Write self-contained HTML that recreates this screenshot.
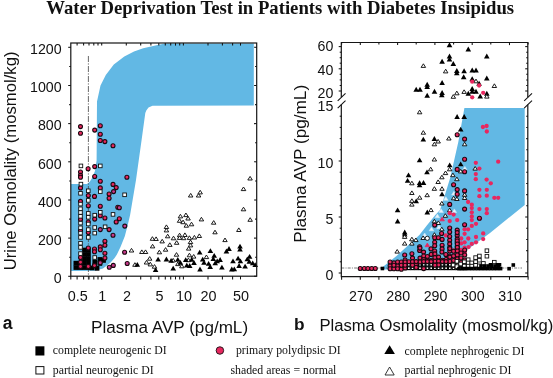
<!DOCTYPE html>
<html><head><meta charset="utf-8"><title>Water Deprivation Test in Patients with Diabetes Insipidus</title>
<style>html,body{margin:0;padding:0;background:#fff}</style></head>
<body>
<svg width="553" height="378" viewBox="0 0 553 378" style="display:block">
<rect width="553" height="378" fill="#fff"/>
<polygon fill="#62B8E4" points="71.0,184.1 87.0,184.1 89.5,182.0 91.8,178.6 95.0,171.0 96.6,160.6 97.0,101.4 100.5,85.6 105.8,75.0 113.8,64.4 124.3,56.5 134.0,51.5 143.2,48.3 156.5,45.3 165.0,43.6 253.8,43.6 253.8,105.4 152.5,105.8 148.5,107.5 146.3,110.5 145.3,113.0 141.6,140.0 136.0,180.0 130.1,215.0 127.5,226.1 124.8,236.2 120.6,246.8 116.9,254.5 114.6,258.0 110.4,262.8 103.0,268.6 94.5,270.7 71.0,270.9"/>
<polygon fill="#62B8E4" points="464.4,107.9 524.7,107.9 524.7,205.0 490.0,233.0 466.5,250.2 452.0,262.0 440.0,269.5 381.0,269.5 382.7,267.0 396.5,256.0 408.8,244.7 419.4,235.1 426.8,225.6 435.3,215.0 440.0,210.0 444.8,195.3 450.3,177.5 458.3,142.0"/>
<line x1="88.4" y1="56" x2="88.4" y2="279.5" stroke="#444" stroke-width="0.8" stroke-dasharray="6 1.4 1.2 1.4"/>
<line x1="341.3" y1="268" x2="522" y2="268" stroke="#555" stroke-width="0.8" stroke-dasharray="3 1.2 1 1.2"/>
<rect x="73.5" y="260.8" width="4.7" height="4.7" fill="#000"/>
<rect x="73.5" y="265.2" width="4.7" height="4.7" fill="#000"/>
<rect x="77.7" y="260.8" width="4.7" height="4.7" fill="#000"/>
<rect x="77.7" y="265.2" width="4.7" height="4.7" fill="#000"/>
<rect x="81.9" y="260.8" width="4.7" height="4.7" fill="#000"/>
<rect x="81.9" y="265.2" width="4.7" height="4.7" fill="#000"/>
<rect x="86.1" y="260.8" width="4.7" height="4.7" fill="#000"/>
<rect x="86.1" y="265.2" width="4.7" height="4.7" fill="#000"/>
<rect x="82.1" y="247.7" width="4.7" height="4.7" fill="#000"/>
<rect x="86.1" y="247.7" width="4.7" height="4.7" fill="#000"/>
<rect x="82.1" y="252.1" width="4.7" height="4.7" fill="#000"/>
<rect x="86.1" y="252.1" width="4.7" height="4.7" fill="#000"/>
<rect x="82.1" y="256.4" width="4.7" height="4.7" fill="#000"/>
<rect x="86.1" y="256.4" width="4.7" height="4.7" fill="#000"/>
<rect x="92.4" y="259.6" width="4.7" height="4.7" fill="#000"/>
<rect x="92.4" y="263.6" width="4.7" height="4.7" fill="#000"/>
<rect x="97.5" y="257.1" width="4.7" height="4.7" fill="#000"/>
<rect x="97.5" y="261.1" width="4.7" height="4.7" fill="#000"/>
<rect x="101.2" y="258.1" width="4.7" height="4.7" fill="#000"/>
<rect x="89.7" y="265.6" width="4.7" height="4.7" fill="#000"/>
<rect x="94.7" y="266.0" width="4.7" height="4.7" fill="#000"/>
<circle cx="80.5" cy="126.6" r="2.0" fill="#E8275F" stroke="#1c0810" stroke-width="1.1"/>
<circle cx="80.5" cy="133.3" r="2.0" fill="#E8275F" stroke="#1c0810" stroke-width="1.1"/>
<circle cx="94.7" cy="130.1" r="2.0" fill="#E8275F" stroke="#1c0810" stroke-width="1.1"/>
<circle cx="100.3" cy="125.7" r="2.0" fill="#E8275F" stroke="#1c0810" stroke-width="1.1"/>
<circle cx="100.3" cy="134.2" r="2.0" fill="#E8275F" stroke="#1c0810" stroke-width="1.1"/>
<circle cx="100.3" cy="140.5" r="2.0" fill="#E8275F" stroke="#1c0810" stroke-width="1.1"/>
<circle cx="104.9" cy="141.6" r="2.0" fill="#E8275F" stroke="#1c0810" stroke-width="1.1"/>
<circle cx="113.0" cy="145.8" r="2.0" fill="#E8275F" stroke="#1c0810" stroke-width="1.1"/>
<circle cx="88.1" cy="168.8" r="2.0" fill="#E8275F" stroke="#1c0810" stroke-width="1.1"/>
<circle cx="94.7" cy="166.6" r="2.0" fill="#E8275F" stroke="#1c0810" stroke-width="1.1"/>
<circle cx="80.5" cy="172.0" r="2.0" fill="#E8275F" stroke="#1c0810" stroke-width="1.1"/>
<circle cx="80.5" cy="175.4" r="2.0" fill="#E8275F" stroke="#1c0810" stroke-width="1.1"/>
<circle cx="80.5" cy="177.2" r="2.0" fill="#E8275F" stroke="#1c0810" stroke-width="1.1"/>
<circle cx="94.7" cy="176.5" r="2.0" fill="#E8275F" stroke="#1c0810" stroke-width="1.1"/>
<circle cx="100.3" cy="181.3" r="2.0" fill="#E8275F" stroke="#1c0810" stroke-width="1.1"/>
<circle cx="80.5" cy="187.9" r="2.0" fill="#E8275F" stroke="#1c0810" stroke-width="1.1"/>
<circle cx="100.3" cy="187.9" r="2.0" fill="#E8275F" stroke="#1c0810" stroke-width="1.1"/>
<circle cx="113.0" cy="184.4" r="2.0" fill="#E8275F" stroke="#1c0810" stroke-width="1.1"/>
<circle cx="116.2" cy="187.6" r="2.0" fill="#E8275F" stroke="#1c0810" stroke-width="1.1"/>
<circle cx="80.5" cy="201.4" r="2.0" fill="#E8275F" stroke="#1c0810" stroke-width="1.1"/>
<circle cx="80.5" cy="219.4" r="2.0" fill="#E8275F" stroke="#1c0810" stroke-width="1.1"/>
<circle cx="88.3" cy="195.6" r="2.0" fill="#E8275F" stroke="#1c0810" stroke-width="1.1"/>
<circle cx="88.3" cy="205.7" r="2.0" fill="#E8275F" stroke="#1c0810" stroke-width="1.1"/>
<circle cx="88.3" cy="222.0" r="2.0" fill="#E8275F" stroke="#1c0810" stroke-width="1.1"/>
<circle cx="94.5" cy="196.4" r="2.0" fill="#E8275F" stroke="#1c0810" stroke-width="1.1"/>
<circle cx="109.1" cy="194.0" r="2.0" fill="#E8275F" stroke="#1c0810" stroke-width="1.1"/>
<circle cx="109.1" cy="198.2" r="2.0" fill="#E8275F" stroke="#1c0810" stroke-width="1.1"/>
<circle cx="100.3" cy="206.2" r="2.0" fill="#E8275F" stroke="#1c0810" stroke-width="1.1"/>
<circle cx="100.3" cy="215.7" r="2.0" fill="#E8275F" stroke="#1c0810" stroke-width="1.1"/>
<circle cx="94.7" cy="219.1" r="2.0" fill="#E8275F" stroke="#1c0810" stroke-width="1.1"/>
<circle cx="104.9" cy="218.0" r="2.0" fill="#E8275F" stroke="#1c0810" stroke-width="1.1"/>
<circle cx="117.8" cy="207.2" r="2.0" fill="#E8275F" stroke="#1c0810" stroke-width="1.1"/>
<circle cx="116.2" cy="222.0" r="2.0" fill="#E8275F" stroke="#1c0810" stroke-width="1.1"/>
<circle cx="80.5" cy="230.5" r="2.0" fill="#E8275F" stroke="#1c0810" stroke-width="1.1"/>
<circle cx="80.5" cy="257.5" r="2.0" fill="#E8275F" stroke="#1c0810" stroke-width="1.1"/>
<circle cx="88.3" cy="232.6" r="2.0" fill="#E8275F" stroke="#1c0810" stroke-width="1.1"/>
<circle cx="88.3" cy="248.0" r="2.0" fill="#E8275F" stroke="#1c0810" stroke-width="1.1"/>
<circle cx="109.1" cy="229.6" r="2.0" fill="#E8275F" stroke="#1c0810" stroke-width="1.1"/>
<circle cx="104.9" cy="241.3" r="2.0" fill="#E8275F" stroke="#1c0810" stroke-width="1.1"/>
<circle cx="104.9" cy="245.3" r="2.0" fill="#E8275F" stroke="#1c0810" stroke-width="1.1"/>
<circle cx="100.3" cy="246.9" r="2.0" fill="#E8275F" stroke="#1c0810" stroke-width="1.1"/>
<circle cx="100.3" cy="249.8" r="2.0" fill="#E8275F" stroke="#1c0810" stroke-width="1.1"/>
<circle cx="94.5" cy="249.0" r="2.0" fill="#E8275F" stroke="#1c0810" stroke-width="1.1"/>
<circle cx="94.5" cy="251.7" r="2.0" fill="#E8275F" stroke="#1c0810" stroke-width="1.1"/>
<circle cx="104.9" cy="253.3" r="2.0" fill="#E8275F" stroke="#1c0810" stroke-width="1.1"/>
<circle cx="104.9" cy="258.0" r="2.0" fill="#E8275F" stroke="#1c0810" stroke-width="1.1"/>
<circle cx="80.5" cy="262.2" r="2.0" fill="#E8275F" stroke="#1c0810" stroke-width="1.1"/>
<circle cx="80.5" cy="266.5" r="2.0" fill="#E8275F" stroke="#1c0810" stroke-width="1.1"/>
<circle cx="88.3" cy="266.5" r="2.0" fill="#E8275F" stroke="#1c0810" stroke-width="1.1"/>
<circle cx="94.5" cy="265.6" r="2.0" fill="#E8275F" stroke="#1c0810" stroke-width="1.1"/>
<circle cx="126.9" cy="177.3" r="2.0" fill="#E8275F" stroke="#1c0810" stroke-width="1.1"/>
<circle cx="119.3" cy="218.7" r="2.0" fill="#E8275F" stroke="#1c0810" stroke-width="1.1"/>
<circle cx="113.6" cy="191.6" r="2.0" fill="#C8388A" stroke="#1c0810" stroke-width="1.1"/>
<circle cx="100.3" cy="229.6" r="2.0" fill="#C8388A" stroke="#1c0810" stroke-width="1.1"/>
<circle cx="113.0" cy="235.2" r="2.0" fill="#C8388A" stroke="#1c0810" stroke-width="1.1"/>
<circle cx="100.3" cy="262.8" r="2.0" fill="#C8388A" stroke="#1c0810" stroke-width="1.1"/>
<circle cx="109.3" cy="267.3" r="2.0" fill="#C8388A" stroke="#1c0810" stroke-width="1.1"/>
<circle cx="113.3" cy="265.4" r="2.0" fill="#C8388A" stroke="#1c0810" stroke-width="1.1"/>
<circle cx="119.3" cy="207.8" r="2.0" fill="#C8388A" stroke="#1c0810" stroke-width="1.1"/>
<circle cx="124.8" cy="226.1" r="2.0" fill="#C8388A" stroke="#1c0810" stroke-width="1.1"/>
<circle cx="124.6" cy="252.3" r="2.0" fill="#C8388A" stroke="#1c0810" stroke-width="1.1"/>
<circle cx="127.2" cy="263.5" r="2.0" fill="#C8388A" stroke="#1c0810" stroke-width="1.1"/>
<rect x="79.1" y="164.1" width="3.6" height="3.6" fill="#fff" stroke="#111" stroke-width="0.9"/>
<rect x="98.5" y="164.1" width="3.6" height="3.6" fill="#fff" stroke="#111" stroke-width="0.9"/>
<rect x="79.1" y="182.3" width="3.6" height="3.6" fill="#fff" stroke="#111" stroke-width="0.9"/>
<rect x="78.7" y="191.5" width="3.6" height="3.6" fill="#fff" stroke="#111" stroke-width="0.9"/>
<rect x="78.7" y="202.3" width="3.6" height="3.6" fill="#fff" stroke="#111" stroke-width="0.9"/>
<rect x="78.7" y="207.0" width="3.6" height="3.6" fill="#fff" stroke="#111" stroke-width="0.9"/>
<rect x="78.7" y="210.7" width="3.6" height="3.6" fill="#fff" stroke="#111" stroke-width="0.9"/>
<rect x="78.7" y="214.5" width="3.6" height="3.6" fill="#fff" stroke="#111" stroke-width="0.9"/>
<rect x="78.7" y="221.3" width="3.6" height="3.6" fill="#fff" stroke="#111" stroke-width="0.9"/>
<rect x="86.5" y="189.0" width="3.6" height="3.6" fill="#fff" stroke="#111" stroke-width="0.9"/>
<rect x="86.5" y="198.6" width="3.6" height="3.6" fill="#fff" stroke="#111" stroke-width="0.9"/>
<rect x="86.5" y="211.6" width="3.6" height="3.6" fill="#fff" stroke="#111" stroke-width="0.9"/>
<rect x="86.5" y="215.5" width="3.6" height="3.6" fill="#fff" stroke="#111" stroke-width="0.9"/>
<rect x="86.5" y="222.2" width="3.6" height="3.6" fill="#fff" stroke="#111" stroke-width="0.9"/>
<rect x="98.5" y="189.8" width="3.6" height="3.6" fill="#fff" stroke="#111" stroke-width="0.9"/>
<rect x="98.5" y="210.5" width="3.6" height="3.6" fill="#fff" stroke="#111" stroke-width="0.9"/>
<rect x="92.9" y="213.4" width="3.6" height="3.6" fill="#fff" stroke="#111" stroke-width="0.9"/>
<rect x="111.2" y="212.6" width="3.6" height="3.6" fill="#fff" stroke="#111" stroke-width="0.9"/>
<rect x="122.8" y="193.0" width="3.6" height="3.6" fill="#fff" stroke="#111" stroke-width="0.9"/>
<rect x="78.7" y="226.0" width="3.6" height="3.6" fill="#fff" stroke="#111" stroke-width="0.9"/>
<rect x="78.7" y="231.3" width="3.6" height="3.6" fill="#fff" stroke="#111" stroke-width="0.9"/>
<rect x="78.7" y="235.6" width="3.6" height="3.6" fill="#fff" stroke="#111" stroke-width="0.9"/>
<rect x="78.7" y="241.4" width="3.6" height="3.6" fill="#fff" stroke="#111" stroke-width="0.9"/>
<rect x="78.7" y="245.6" width="3.6" height="3.6" fill="#fff" stroke="#111" stroke-width="0.9"/>
<rect x="78.7" y="251.8" width="3.6" height="3.6" fill="#fff" stroke="#111" stroke-width="0.9"/>
<rect x="86.5" y="227.8" width="3.6" height="3.6" fill="#fff" stroke="#111" stroke-width="0.9"/>
<rect x="86.5" y="235.6" width="3.6" height="3.6" fill="#fff" stroke="#111" stroke-width="0.9"/>
<rect x="92.9" y="225.7" width="3.6" height="3.6" fill="#fff" stroke="#111" stroke-width="0.9"/>
<rect x="92.9" y="231.3" width="3.6" height="3.6" fill="#fff" stroke="#111" stroke-width="0.9"/>
<rect x="103.3" y="225.0" width="3.6" height="3.6" fill="#fff" stroke="#111" stroke-width="0.9"/>
<rect x="92.9" y="255.7" width="3.6" height="3.6" fill="#fff" stroke="#111" stroke-width="0.9"/>
<polygon points="131.5,248.4 133.8,252.0 129.2,252.0" fill="#fff" stroke="#111" stroke-width="0.95" stroke-linejoin="miter"/>
<polygon points="141.8,249.9 144.1,253.5 139.6,253.5" fill="#fff" stroke="#111" stroke-width="0.95" stroke-linejoin="miter"/>
<polygon points="145.5,249.9 147.8,253.5 143.2,253.5" fill="#fff" stroke="#111" stroke-width="0.95" stroke-linejoin="miter"/>
<polygon points="152.4,236.7 154.7,240.3 150.2,240.3" fill="#fff" stroke="#111" stroke-width="0.95" stroke-linejoin="miter"/>
<polygon points="156.1,236.9 158.3,240.5 153.8,240.5" fill="#fff" stroke="#111" stroke-width="0.95" stroke-linejoin="miter"/>
<polygon points="152.6,244.3 154.8,247.9 150.3,247.9" fill="#fff" stroke="#111" stroke-width="0.95" stroke-linejoin="miter"/>
<polygon points="159.3,250.2 161.6,253.8 157.1,253.8" fill="#fff" stroke="#111" stroke-width="0.95" stroke-linejoin="miter"/>
<polygon points="134.9,262.7 137.2,266.3 132.7,266.3" fill="#fff" stroke="#111" stroke-width="0.95" stroke-linejoin="miter"/>
<polygon points="146.5,260.4 148.8,264.0 144.2,264.0" fill="#fff" stroke="#111" stroke-width="0.95" stroke-linejoin="miter"/>
<polygon points="149.7,256.6 151.9,260.2 147.4,260.2" fill="#fff" stroke="#111" stroke-width="0.95" stroke-linejoin="miter"/>
<polygon points="150.3,262.2 152.6,265.9 148.1,265.9" fill="#fff" stroke="#111" stroke-width="0.95" stroke-linejoin="miter"/>
<polygon points="154.5,264.6 156.8,268.2 152.2,268.2" fill="#fff" stroke="#111" stroke-width="0.95" stroke-linejoin="miter"/>
<polygon points="180.4,214.3 182.7,217.9 178.2,217.9" fill="#fff" stroke="#111" stroke-width="0.95" stroke-linejoin="miter"/>
<polygon points="185.9,213.0 188.2,216.6 183.7,216.6" fill="#fff" stroke="#111" stroke-width="0.95" stroke-linejoin="miter"/>
<polygon points="188.1,216.4 190.3,220.0 185.8,220.0" fill="#fff" stroke="#111" stroke-width="0.95" stroke-linejoin="miter"/>
<polygon points="179.6,218.7 181.8,222.3 177.3,222.3" fill="#fff" stroke="#111" stroke-width="0.95" stroke-linejoin="miter"/>
<polygon points="183.1,220.1 185.3,223.7 180.8,223.7" fill="#fff" stroke="#111" stroke-width="0.95" stroke-linejoin="miter"/>
<polygon points="186.3,223.6 188.6,227.2 184.1,227.2" fill="#fff" stroke="#111" stroke-width="0.95" stroke-linejoin="miter"/>
<polygon points="191.5,222.2 193.8,225.8 189.2,225.8" fill="#fff" stroke="#111" stroke-width="0.95" stroke-linejoin="miter"/>
<polygon points="201.4,217.3 203.7,220.9 199.2,220.9" fill="#fff" stroke="#111" stroke-width="0.95" stroke-linejoin="miter"/>
<polygon points="166.4,224.9 168.7,228.5 164.2,228.5" fill="#fff" stroke="#111" stroke-width="0.95" stroke-linejoin="miter"/>
<polygon points="166.4,228.3 168.7,231.9 164.2,231.9" fill="#fff" stroke="#111" stroke-width="0.95" stroke-linejoin="miter"/>
<polygon points="167.7,234.2 169.9,237.8 165.4,237.8" fill="#fff" stroke="#111" stroke-width="0.95" stroke-linejoin="miter"/>
<polygon points="173.5,236.2 175.8,239.8 171.2,239.8" fill="#fff" stroke="#111" stroke-width="0.95" stroke-linejoin="miter"/>
<polygon points="179.6,233.2 181.8,236.8 177.3,236.8" fill="#fff" stroke="#111" stroke-width="0.95" stroke-linejoin="miter"/>
<polygon points="184.9,232.9 187.2,236.5 182.7,236.5" fill="#fff" stroke="#111" stroke-width="0.95" stroke-linejoin="miter"/>
<polygon points="179.6,235.8 181.8,239.4 177.3,239.4" fill="#fff" stroke="#111" stroke-width="0.95" stroke-linejoin="miter"/>
<polygon points="183.7,236.1 185.9,239.7 181.4,239.7" fill="#fff" stroke="#111" stroke-width="0.95" stroke-linejoin="miter"/>
<polygon points="189.4,235.8 191.7,239.4 187.2,239.4" fill="#fff" stroke="#111" stroke-width="0.95" stroke-linejoin="miter"/>
<polygon points="194.4,235.4 196.7,239.0 192.2,239.0" fill="#fff" stroke="#111" stroke-width="0.95" stroke-linejoin="miter"/>
<polygon points="199.3,233.9 201.6,237.5 197.1,237.5" fill="#fff" stroke="#111" stroke-width="0.95" stroke-linejoin="miter"/>
<polygon points="162.2,239.3 164.4,242.9 159.9,242.9" fill="#fff" stroke="#111" stroke-width="0.95" stroke-linejoin="miter"/>
<polygon points="176.7,240.7 178.9,244.3 174.4,244.3" fill="#fff" stroke="#111" stroke-width="0.95" stroke-linejoin="miter"/>
<polygon points="169.8,242.8 172.1,246.4 167.6,246.4" fill="#fff" stroke="#111" stroke-width="0.95" stroke-linejoin="miter"/>
<polygon points="190.5,240.0 192.8,243.6 188.2,243.6" fill="#fff" stroke="#111" stroke-width="0.95" stroke-linejoin="miter"/>
<polygon points="190.5,243.3 192.8,246.9 188.2,246.9" fill="#fff" stroke="#111" stroke-width="0.95" stroke-linejoin="miter"/>
<polygon points="188.7,246.5 190.9,250.1 186.4,250.1" fill="#fff" stroke="#111" stroke-width="0.95" stroke-linejoin="miter"/>
<polygon points="165.6,247.6 167.8,251.2 163.3,251.2" fill="#fff" stroke="#111" stroke-width="0.95" stroke-linejoin="miter"/>
<polygon points="176.5,252.6 178.8,256.2 174.2,256.2" fill="#fff" stroke="#111" stroke-width="0.95" stroke-linejoin="miter"/>
<polygon points="189.4,253.2 191.7,256.8 187.2,256.8" fill="#fff" stroke="#111" stroke-width="0.95" stroke-linejoin="miter"/>
<polygon points="193.7,254.5 195.9,258.1 191.4,258.1" fill="#fff" stroke="#111" stroke-width="0.95" stroke-linejoin="miter"/>
<polygon points="173.2,258.4 175.4,262.0 170.9,262.0" fill="#fff" stroke="#111" stroke-width="0.95" stroke-linejoin="miter"/>
<polygon points="188.4,258.1 190.7,261.7 186.2,261.7" fill="#fff" stroke="#111" stroke-width="0.95" stroke-linejoin="miter"/>
<polygon points="177.8,262.0 180.1,265.6 175.6,265.6" fill="#fff" stroke="#111" stroke-width="0.95" stroke-linejoin="miter"/>
<polygon points="181.8,264.2 184.1,267.8 179.6,267.8" fill="#fff" stroke="#111" stroke-width="0.95" stroke-linejoin="miter"/>
<polygon points="250.1,176.4 252.3,180.0 247.8,180.0" fill="#fff" stroke="#111" stroke-width="0.95" stroke-linejoin="miter"/>
<polygon points="243.5,187.0 245.8,190.6 241.2,190.6" fill="#fff" stroke="#111" stroke-width="0.95" stroke-linejoin="miter"/>
<polygon points="243.5,207.2 245.8,210.8 241.2,210.8" fill="#fff" stroke="#111" stroke-width="0.95" stroke-linejoin="miter"/>
<polygon points="213.7,220.6 215.9,224.2 211.4,224.2" fill="#fff" stroke="#111" stroke-width="0.95" stroke-linejoin="miter"/>
<polygon points="215.0,230.2 217.2,233.8 212.8,233.8" fill="#fff" stroke="#111" stroke-width="0.95" stroke-linejoin="miter"/>
<polygon points="238.8,227.9 241.1,231.5 236.6,231.5" fill="#fff" stroke="#111" stroke-width="0.95" stroke-linejoin="miter"/>
<polygon points="225.0,238.0 227.2,241.6 222.8,241.6" fill="#fff" stroke="#111" stroke-width="0.95" stroke-linejoin="miter"/>
<polygon points="250.2,217.7 252.4,221.3 247.9,221.3" fill="#fff" stroke="#111" stroke-width="0.95" stroke-linejoin="miter"/>
<polygon points="206.4,255.0 208.7,258.6 204.2,258.6" fill="#fff" stroke="#111" stroke-width="0.95" stroke-linejoin="miter"/>
<polygon points="190.7,193.4 192.9,197.0 188.4,197.0" fill="#fff" stroke="#111" stroke-width="0.95" stroke-linejoin="miter"/>
<polygon points="198.6,193.4 200.8,197.0 196.3,197.0" fill="#fff" stroke="#111" stroke-width="0.95" stroke-linejoin="miter"/>
<polygon points="200.2,190.3 202.4,193.9 197.9,193.9" fill="#fff" stroke="#111" stroke-width="0.95" stroke-linejoin="miter"/>
<polygon points="137.3,261.9 140.1,266.8 134.5,266.8" fill="#000"/>
<polygon points="155.6,267.2 158.4,272.1 152.8,272.1" fill="#000"/>
<polygon points="158.1,256.7 160.9,261.6 155.3,261.6" fill="#000"/>
<polygon points="199.7,249.8 202.5,254.6 196.9,254.6" fill="#000"/>
<polygon points="166.4,256.6 169.2,261.4 163.6,261.4" fill="#000"/>
<polygon points="171.1,257.9 173.9,262.8 168.3,262.8" fill="#000"/>
<polygon points="177.8,256.9 180.6,261.8 175.0,261.8" fill="#000"/>
<polygon points="180.4,259.9 183.2,264.8 177.6,264.8" fill="#000"/>
<polygon points="185.7,257.2 188.5,262.1 182.9,262.1" fill="#000"/>
<polygon points="191.7,256.9 194.5,261.8 188.9,261.8" fill="#000"/>
<polygon points="186.8,262.8 189.6,267.6 184.0,267.6" fill="#000"/>
<polygon points="189.7,263.1 192.5,267.9 186.9,267.9" fill="#000"/>
<polygon points="194.0,260.1 196.8,264.9 191.2,264.9" fill="#000"/>
<polygon points="202.7,256.7 205.5,261.6 199.9,261.6" fill="#000"/>
<polygon points="204.0,259.9 206.8,264.8 201.2,264.8" fill="#000"/>
<polygon points="173.2,265.8 176.0,270.6 170.4,270.6" fill="#000"/>
<polygon points="200.0,266.6 202.8,271.4 197.2,271.4" fill="#000"/>
<polygon points="240.0,243.8 242.8,248.6 237.2,248.6" fill="#000"/>
<polygon points="240.0,246.6 242.8,251.4 237.2,251.4" fill="#000"/>
<polygon points="229.0,246.1 231.8,250.9 226.2,250.9" fill="#000"/>
<polygon points="226.4,248.6 229.2,253.4 223.6,253.4" fill="#000"/>
<polygon points="210.4,248.2 213.2,253.0 207.6,253.0" fill="#000"/>
<polygon points="214.2,252.9 217.0,257.8 211.4,257.8" fill="#000"/>
<polygon points="213.3,256.2 216.1,261.1 210.5,261.1" fill="#000"/>
<polygon points="208.6,260.9 211.4,265.8 205.8,265.8" fill="#000"/>
<polygon points="210.2,264.1 213.0,268.9 207.4,268.9" fill="#000"/>
<polygon points="215.2,260.4 218.0,265.3 212.4,265.3" fill="#000"/>
<polygon points="217.2,258.4 220.0,263.2 214.4,263.2" fill="#000"/>
<polygon points="220.1,257.1 222.9,261.9 217.3,261.9" fill="#000"/>
<polygon points="221.9,264.7 224.7,269.6 219.1,269.6" fill="#000"/>
<polygon points="233.0,258.4 235.8,263.2 230.2,263.2" fill="#000"/>
<polygon points="238.1,255.8 240.9,260.6 235.3,260.6" fill="#000"/>
<polygon points="240.4,258.4 243.2,263.2 237.6,263.2" fill="#000"/>
<polygon points="239.1,263.1 241.9,267.9 236.3,267.9" fill="#000"/>
<polygon points="231.8,266.6 234.6,271.4 229.0,271.4" fill="#000"/>
<polygon points="234.3,266.4 237.1,271.2 231.5,271.2" fill="#000"/>
<polygon points="245.1,263.8 247.9,268.6 242.3,268.6" fill="#000"/>
<polygon points="247.3,256.4 250.1,261.3 244.5,261.3" fill="#000"/>
<polygon points="249.6,253.9 252.4,258.8 246.8,258.8" fill="#000"/>
<polygon points="249.3,258.9 252.1,263.8 246.5,263.8" fill="#000"/>
<polygon points="252.7,260.4 255.5,265.3 249.9,265.3" fill="#000"/>
<polygon points="255.2,262.2 258.0,267.1 252.4,267.1" fill="#000"/>
<polygon points="449.5,42.3 452.3,47.2 446.7,47.2" fill="#000"/>
<polygon points="449.5,53.4 452.3,58.4 446.7,58.4" fill="#000"/>
<polygon points="449.5,56.6 452.3,61.6 446.7,61.6" fill="#000"/>
<polygon points="442.1,58.8 444.9,63.8 439.3,63.8" fill="#000"/>
<polygon points="453.3,61.0 456.1,66.0 450.5,66.0" fill="#000"/>
<polygon points="456.8,68.0 459.6,73.0 454.0,73.0" fill="#000"/>
<polygon points="456.8,70.3 459.6,75.2 454.0,75.2" fill="#000"/>
<polygon points="464.1,68.2 466.9,73.2 461.3,73.2" fill="#000"/>
<polygon points="463.7,74.3 466.5,79.2 460.9,79.2" fill="#000"/>
<polygon points="442.1,80.1 444.9,85.0 439.3,85.0" fill="#000"/>
<polygon points="427.2,81.8 430.0,86.8 424.4,86.8" fill="#000"/>
<polygon points="427.2,84.1 430.0,89.0 424.4,89.0" fill="#000"/>
<polygon points="468.3,46.6 471.1,51.6 465.5,51.6" fill="#000"/>
<polygon points="486.8,53.4 489.6,58.4 484.0,58.4" fill="#000"/>
<polygon points="472.2,67.5 475.0,72.4 469.4,72.4" fill="#000"/>
<polygon points="476.0,67.5 478.8,72.4 473.2,72.4" fill="#000"/>
<polygon points="486.8,75.5 489.6,80.4 484.0,80.4" fill="#000"/>
<polygon points="472.2,76.3 475.0,81.2 469.4,81.2" fill="#000"/>
<polygon points="479.1,80.8 481.9,85.7 476.3,85.7" fill="#000"/>
<polygon points="472.2,86.0 475.0,90.9 469.4,90.9" fill="#000"/>
<polygon points="416.2,86.8 419.0,91.8 413.4,91.8" fill="#000"/>
<polygon points="420.0,86.8 422.8,91.8 417.2,91.8" fill="#000"/>
<polygon points="434.5,88.8 437.3,93.7 431.7,93.7" fill="#000"/>
<polygon points="427.2,92.8 430.0,97.8 424.4,97.8" fill="#000"/>
<polygon points="442.1,90.0 444.9,95.0 439.3,95.0" fill="#000"/>
<polygon points="441.8,92.3 444.6,97.2 439.0,97.2" fill="#000"/>
<polygon points="457.1,114.0 459.9,118.9 454.3,118.9" fill="#000"/>
<polygon points="464.2,114.0 467.0,118.9 461.4,118.9" fill="#000"/>
<polygon points="468.3,90.8 471.1,95.7 465.5,95.7" fill="#000"/>
<polygon points="472.2,88.8 475.0,93.7 469.4,93.7" fill="#000"/>
<polygon points="476.0,88.8 478.8,93.7 473.2,93.7" fill="#000"/>
<polygon points="486.8,90.8 489.6,95.7 484.0,95.7" fill="#000"/>
<polygon points="480.2,93.6 483.0,98.5 477.4,98.5" fill="#000"/>
<polygon points="423.3,136.7 426.1,141.5 420.5,141.5" fill="#000"/>
<polygon points="434.4,136.1 437.2,140.9 431.6,140.9" fill="#000"/>
<polygon points="419.6,157.4 422.4,162.2 416.8,162.2" fill="#000"/>
<polygon points="460.7,126.7 463.5,131.6 457.9,131.6" fill="#000"/>
<polygon points="460.7,161.4 463.5,166.2 457.9,166.2" fill="#000"/>
<polygon points="449.7,162.4 452.5,167.2 446.9,167.2" fill="#000"/>
<polygon points="427.0,169.5 429.8,174.3 424.2,174.3" fill="#000"/>
<polygon points="408.5,172.5 411.3,177.3 405.7,177.3" fill="#000"/>
<polygon points="407.6,178.0 410.4,182.8 404.8,182.8" fill="#000"/>
<polygon points="419.6,180.2 422.4,185.0 416.8,185.0" fill="#000"/>
<polygon points="419.6,182.5 422.4,187.3 416.8,187.3" fill="#000"/>
<polygon points="423.5,180.1 426.3,184.9 420.7,184.9" fill="#000"/>
<polygon points="442.0,191.4 444.8,196.2 439.2,196.2" fill="#000"/>
<polygon points="416.2,198.5 419.0,203.3 413.4,203.3" fill="#000"/>
<polygon points="397.6,207.5 400.4,212.3 394.8,212.3" fill="#000"/>
<polygon points="427.3,209.6 430.1,214.4 424.5,214.4" fill="#000"/>
<polygon points="397.6,218.6 400.4,223.4 394.8,223.4" fill="#000"/>
<polygon points="404.7,229.6 407.5,234.4 401.9,234.4" fill="#000"/>
<polygon points="404.7,231.6 407.5,236.4 401.9,236.4" fill="#000"/>
<polygon points="441.1,208.8 443.4,212.4 438.9,212.4" fill="#e8f4fb" stroke="#cfe8f6" stroke-width="0.6"/>
<polygon points="437.4,214.1 439.6,217.7 435.1,217.7" fill="#e8f4fb" stroke="#cfe8f6" stroke-width="0.6"/>
<polygon points="431.5,227.2 433.8,230.8 429.2,230.8" fill="#e8f4fb" stroke="#cfe8f6" stroke-width="0.6"/>
<polygon points="439.0,225.1 441.2,228.7 436.8,228.7" fill="#e8f4fb" stroke="#cfe8f6" stroke-width="0.6"/>
<polygon points="424.7,233.0 426.9,236.6 422.4,236.6" fill="#e8f4fb" stroke="#cfe8f6" stroke-width="0.6"/>
<polygon points="453.8,191.4 456.1,195.0 451.6,195.0" fill="#e8f4fb" stroke="#cfe8f6" stroke-width="0.6"/>
<polygon points="445.8,196.7 448.1,200.3 443.6,200.3" fill="#e8f4fb" stroke="#cfe8f6" stroke-width="0.6"/>
<polygon points="454.3,208.9 456.6,212.5 452.1,212.5" fill="#e8f4fb" stroke="#cfe8f6" stroke-width="0.6"/>
<polygon points="464.9,166.4 467.1,170.0 462.6,170.0" fill="#e8f4fb" stroke="#cfe8f6" stroke-width="0.6"/>
<polygon points="423.4,63.8 425.6,67.4 421.1,67.4" fill="#fff" stroke="#111" stroke-width="0.95" stroke-linejoin="miter"/>
<polygon points="445.7,69.2 447.9,72.9 443.4,72.9" fill="#fff" stroke="#111" stroke-width="0.95" stroke-linejoin="miter"/>
<polygon points="476.0,79.1 478.2,82.8 473.8,82.8" fill="#fff" stroke="#111" stroke-width="0.95" stroke-linejoin="miter"/>
<polygon points="494.4,83.8 496.6,87.5 492.1,87.5" fill="#fff" stroke="#111" stroke-width="0.95" stroke-linejoin="miter"/>
<polygon points="456.8,91.1 459.1,94.8 454.6,94.8" fill="#fff" stroke="#111" stroke-width="0.95" stroke-linejoin="miter"/>
<polygon points="453.3,94.6 455.6,98.3 451.1,98.3" fill="#fff" stroke="#111" stroke-width="0.95" stroke-linejoin="miter"/>
<polygon points="464.1,89.8 466.4,93.4 461.9,93.4" fill="#fff" stroke="#111" stroke-width="0.95" stroke-linejoin="miter"/>
<polygon points="486.8,94.4 489.1,98.1 484.6,98.1" fill="#fff" stroke="#111" stroke-width="0.95" stroke-linejoin="miter"/>
<polygon points="419.6,110.1 421.9,113.8 417.4,113.8" fill="#fff" stroke="#111" stroke-width="0.95" stroke-linejoin="miter"/>
<polygon points="423.3,130.6 425.6,134.2 421.1,134.2" fill="#fff" stroke="#111" stroke-width="0.95" stroke-linejoin="miter"/>
<polygon points="438.1,139.4 440.4,143.0 435.9,143.0" fill="#fff" stroke="#111" stroke-width="0.95" stroke-linejoin="miter"/>
<polygon points="434.4,142.2 436.6,145.8 432.1,145.8" fill="#fff" stroke="#111" stroke-width="0.95" stroke-linejoin="miter"/>
<polygon points="448.9,136.4 451.1,140.0 446.6,140.0" fill="#fff" stroke="#111" stroke-width="0.95" stroke-linejoin="miter"/>
<polygon points="434.4,157.4 436.6,161.0 432.1,161.0" fill="#fff" stroke="#111" stroke-width="0.95" stroke-linejoin="miter"/>
<polygon points="464.6,142.2 466.9,145.8 462.4,145.8" fill="#fff" stroke="#111" stroke-width="0.95" stroke-linejoin="miter"/>
<polygon points="449.7,167.2 451.9,170.8 447.4,170.8" fill="#fff" stroke="#111" stroke-width="0.95" stroke-linejoin="miter"/>
<polygon points="460.7,169.3 462.9,172.9 458.4,172.9" fill="#fff" stroke="#111" stroke-width="0.95" stroke-linejoin="miter"/>
<polygon points="445.5,171.0 447.8,174.6 443.2,174.6" fill="#fff" stroke="#111" stroke-width="0.95" stroke-linejoin="miter"/>
<polygon points="452.9,173.1 455.1,176.7 450.6,176.7" fill="#fff" stroke="#111" stroke-width="0.95" stroke-linejoin="miter"/>
<polygon points="441.9,175.2 444.1,178.8 439.6,178.8" fill="#fff" stroke="#111" stroke-width="0.95" stroke-linejoin="miter"/>
<polygon points="456.9,177.1 459.1,180.7 454.6,180.7" fill="#fff" stroke="#111" stroke-width="0.95" stroke-linejoin="miter"/>
<polygon points="475.2,166.5 477.4,170.1 472.9,170.1" fill="#fff" stroke="#111" stroke-width="0.95" stroke-linejoin="miter"/>
<polygon points="430.7,167.2 432.9,170.8 428.4,170.8" fill="#fff" stroke="#111" stroke-width="0.95" stroke-linejoin="miter"/>
<polygon points="411.9,181.2 414.1,184.8 409.6,184.8" fill="#fff" stroke="#111" stroke-width="0.95" stroke-linejoin="miter"/>
<polygon points="438.1,179.9 440.4,183.5 435.9,183.5" fill="#fff" stroke="#111" stroke-width="0.95" stroke-linejoin="miter"/>
<polygon points="434.4,186.7 436.6,190.3 432.1,190.3" fill="#fff" stroke="#111" stroke-width="0.95" stroke-linejoin="miter"/>
<polygon points="442.0,186.7 444.2,190.3 439.8,190.3" fill="#fff" stroke="#111" stroke-width="0.95" stroke-linejoin="miter"/>
<polygon points="411.9,190.9 414.1,194.5 409.6,194.5" fill="#fff" stroke="#111" stroke-width="0.95" stroke-linejoin="miter"/>
<polygon points="427.2,193.1 429.4,196.7 424.9,196.7" fill="#fff" stroke="#111" stroke-width="0.95" stroke-linejoin="miter"/>
<polygon points="419.6,195.6 421.9,199.2 417.4,199.2" fill="#fff" stroke="#111" stroke-width="0.95" stroke-linejoin="miter"/>
<polygon points="411.9,198.8 414.1,202.4 409.6,202.4" fill="#fff" stroke="#111" stroke-width="0.95" stroke-linejoin="miter"/>
<polygon points="411.9,202.5 414.1,206.1 409.6,206.1" fill="#fff" stroke="#111" stroke-width="0.95" stroke-linejoin="miter"/>
<polygon points="441.8,201.4 444.1,205.0 439.6,205.0" fill="#fff" stroke="#111" stroke-width="0.95" stroke-linejoin="miter"/>
<polygon points="431.0,208.0 433.2,211.6 428.8,211.6" fill="#fff" stroke="#111" stroke-width="0.95" stroke-linejoin="miter"/>
<polygon points="434.4,219.3 436.6,222.9 432.1,222.9" fill="#fff" stroke="#111" stroke-width="0.95" stroke-linejoin="miter"/>
<polygon points="438.3,220.9 440.6,224.5 436.1,224.5" fill="#fff" stroke="#111" stroke-width="0.95" stroke-linejoin="miter"/>
<polygon points="464.6,192.7 466.9,196.3 462.4,196.3" fill="#fff" stroke="#111" stroke-width="0.95" stroke-linejoin="miter"/>
<polygon points="464.6,195.9 466.9,199.5 462.4,199.5" fill="#fff" stroke="#111" stroke-width="0.95" stroke-linejoin="miter"/>
<polygon points="453.6,196.2 455.9,199.8 451.4,199.8" fill="#fff" stroke="#111" stroke-width="0.95" stroke-linejoin="miter"/>
<polygon points="456.9,196.9 459.1,200.5 454.6,200.5" fill="#fff" stroke="#111" stroke-width="0.95" stroke-linejoin="miter"/>
<polygon points="449.7,208.1 451.9,211.7 447.4,211.7" fill="#fff" stroke="#111" stroke-width="0.95" stroke-linejoin="miter"/>
<polygon points="404.7,234.8 406.9,238.4 402.4,238.4" fill="#fff" stroke="#111" stroke-width="0.95" stroke-linejoin="miter"/>
<polygon points="411.9,237.2 414.1,240.8 409.6,240.8" fill="#fff" stroke="#111" stroke-width="0.95" stroke-linejoin="miter"/>
<polygon points="415.9,238.0 418.1,241.6 413.6,241.6" fill="#fff" stroke="#111" stroke-width="0.95" stroke-linejoin="miter"/>
<polygon points="404.7,241.5 406.9,245.1 402.4,245.1" fill="#fff" stroke="#111" stroke-width="0.95" stroke-linejoin="miter"/>
<polygon points="411.9,241.5 414.1,245.1 409.6,245.1" fill="#fff" stroke="#111" stroke-width="0.95" stroke-linejoin="miter"/>
<polygon points="397.2,249.5 399.4,253.1 394.9,253.1" fill="#fff" stroke="#111" stroke-width="0.95" stroke-linejoin="miter"/>
<polygon points="441.8,227.2 444.1,230.8 439.6,230.8" fill="#fff" stroke="#111" stroke-width="0.95" stroke-linejoin="miter"/>
<polygon points="434.4,232.7 436.6,236.3 432.1,236.3" fill="#fff" stroke="#111" stroke-width="0.95" stroke-linejoin="miter"/>
<polygon points="423.1,235.9 425.4,239.5 420.9,239.5" fill="#fff" stroke="#111" stroke-width="0.95" stroke-linejoin="miter"/>
<polygon points="445.3,213.7 447.6,217.3 443.1,217.3" fill="#fff" stroke="#111" stroke-width="0.95" stroke-linejoin="miter"/>
<circle cx="472.2" cy="81.7" r="2.15" fill="#E8275F"/>
<circle cx="479.1" cy="85.5" r="2.15" fill="#E8275F"/>
<circle cx="483.2" cy="92.8" r="2.15" fill="#E8275F"/>
<circle cx="472.2" cy="97.3" r="2.15" fill="#E8275F"/>
<circle cx="482.9" cy="127.0" r="2.15" fill="#E8275F"/>
<circle cx="486.6" cy="126.0" r="2.15" fill="#E8275F"/>
<circle cx="486.8" cy="131.5" r="2.15" fill="#E8275F"/>
<circle cx="475.8" cy="162.8" r="2.15" fill="#E8275F"/>
<circle cx="479.4" cy="168.6" r="2.15" fill="#E8275F"/>
<circle cx="475.8" cy="174.1" r="2.15" fill="#E8275F"/>
<circle cx="475.8" cy="179.2" r="2.15" fill="#E8275F"/>
<circle cx="486.6" cy="179.6" r="2.15" fill="#E8275F"/>
<circle cx="498.2" cy="161.7" r="2.15" fill="#E8275F"/>
<circle cx="490.8" cy="183.3" r="2.15" fill="#E8275F"/>
<circle cx="479.4" cy="189.8" r="2.15" fill="#E8275F"/>
<circle cx="486.8" cy="189.8" r="2.15" fill="#E8275F"/>
<circle cx="479.4" cy="196.2" r="2.15" fill="#E8275F"/>
<circle cx="486.8" cy="195.7" r="2.15" fill="#E8275F"/>
<circle cx="494.3" cy="197.8" r="2.15" fill="#E8275F"/>
<circle cx="498.2" cy="197.8" r="2.15" fill="#E8275F"/>
<circle cx="468.1" cy="202.0" r="2.15" fill="#E8275F"/>
<circle cx="471.8" cy="204.7" r="2.15" fill="#E8275F"/>
<circle cx="471.8" cy="208.1" r="2.15" fill="#E8275F"/>
<circle cx="471.8" cy="212.3" r="2.15" fill="#E8275F"/>
<circle cx="479.4" cy="209.1" r="2.15" fill="#E8275F"/>
<circle cx="486.8" cy="209.1" r="2.15" fill="#E8275F"/>
<circle cx="486.8" cy="213.2" r="2.15" fill="#E8275F"/>
<circle cx="449.7" cy="213.2" r="2.15" fill="#E8275F"/>
<circle cx="453.6" cy="214.6" r="2.15" fill="#E8275F"/>
<circle cx="471.8" cy="216.4" r="2.15" fill="#E8275F"/>
<circle cx="471.8" cy="220.1" r="2.15" fill="#E8275F"/>
<circle cx="476.0" cy="223.8" r="2.15" fill="#E8275F"/>
<circle cx="471.8" cy="225.9" r="2.15" fill="#E8275F"/>
<circle cx="449.7" cy="221.1" r="2.15" fill="#E8275F"/>
<circle cx="457.2" cy="220.1" r="2.15" fill="#E8275F"/>
<circle cx="464.6" cy="229.3" r="2.15" fill="#E8275F"/>
<circle cx="468.1" cy="229.3" r="2.15" fill="#E8275F"/>
<circle cx="464.6" cy="233.8" r="2.15" fill="#E8275F"/>
<circle cx="445.8" cy="235.4" r="2.15" fill="#E8275F"/>
<circle cx="464.6" cy="242.3" r="2.15" fill="#E8275F"/>
<circle cx="464.6" cy="247.6" r="2.15" fill="#E8275F"/>
<circle cx="461.2" cy="243.4" r="2.15" fill="#E8275F"/>
<circle cx="476.0" cy="237.0" r="2.15" fill="#E8275F"/>
<circle cx="483.2" cy="233.4" r="2.15" fill="#E8275F"/>
<circle cx="483.2" cy="239.1" r="2.15" fill="#E8275F"/>
<circle cx="471.8" cy="243.9" r="2.15" fill="#E8275F"/>
<circle cx="476.0" cy="242.3" r="2.15" fill="#E8275F"/>
<circle cx="468.6" cy="247.1" r="2.15" fill="#E8275F"/>
<circle cx="480.0" cy="218.5" r="2.15" fill="#E8275F"/>
<circle cx="453.4" cy="250.5" r="2.15" fill="#E8275F"/>
<circle cx="461.0" cy="250.0" r="2.15" fill="#E8275F"/>
<circle cx="464.8" cy="252.5" r="2.15" fill="#E8275F"/>
<circle cx="461.2" cy="238.5" r="2.15" fill="#E8275F"/>
<circle cx="468.3" cy="238.5" r="2.15" fill="#E8275F"/>
<rect x="403.7" y="266.8" width="2.8" height="2.8" fill="#fff" stroke="#000" stroke-width="1.2"/>
<rect x="403.7" y="263.3" width="2.8" height="2.8" fill="#fff" stroke="#000" stroke-width="1.2"/>
<rect x="407.4" y="266.8" width="2.8" height="2.8" fill="#fff" stroke="#000" stroke-width="1.2"/>
<rect x="407.4" y="263.3" width="2.8" height="2.8" fill="#fff" stroke="#000" stroke-width="1.2"/>
<rect x="411.1" y="266.8" width="2.8" height="2.8" fill="#fff" stroke="#000" stroke-width="1.2"/>
<rect x="411.1" y="263.3" width="2.8" height="2.8" fill="#fff" stroke="#000" stroke-width="1.2"/>
<rect x="414.8" y="266.8" width="2.8" height="2.8" fill="#fff" stroke="#000" stroke-width="1.2"/>
<rect x="414.8" y="263.3" width="2.8" height="2.8" fill="#fff" stroke="#000" stroke-width="1.2"/>
<rect x="418.6" y="266.8" width="2.8" height="2.8" fill="#fff" stroke="#000" stroke-width="1.2"/>
<rect x="418.6" y="263.3" width="2.8" height="2.8" fill="#fff" stroke="#000" stroke-width="1.2"/>
<rect x="422.3" y="266.8" width="2.8" height="2.8" fill="#fff" stroke="#000" stroke-width="1.2"/>
<rect x="422.3" y="263.3" width="2.8" height="2.8" fill="#fff" stroke="#000" stroke-width="1.2"/>
<rect x="426.0" y="266.8" width="2.8" height="2.8" fill="#fff" stroke="#000" stroke-width="1.2"/>
<rect x="426.0" y="263.3" width="2.8" height="2.8" fill="#fff" stroke="#000" stroke-width="1.2"/>
<rect x="429.8" y="266.8" width="2.8" height="2.8" fill="#fff" stroke="#000" stroke-width="1.2"/>
<rect x="429.8" y="263.3" width="2.8" height="2.8" fill="#fff" stroke="#000" stroke-width="1.2"/>
<rect x="433.5" y="266.8" width="2.8" height="2.8" fill="#fff" stroke="#000" stroke-width="1.2"/>
<rect x="433.5" y="263.3" width="2.8" height="2.8" fill="#fff" stroke="#000" stroke-width="1.2"/>
<rect x="437.2" y="266.8" width="2.8" height="2.8" fill="#fff" stroke="#000" stroke-width="1.2"/>
<rect x="437.2" y="263.3" width="2.8" height="2.8" fill="#fff" stroke="#000" stroke-width="1.2"/>
<rect x="441.0" y="266.8" width="2.8" height="2.8" fill="#fff" stroke="#000" stroke-width="1.2"/>
<rect x="441.0" y="263.3" width="2.8" height="2.8" fill="#fff" stroke="#000" stroke-width="1.2"/>
<rect x="444.7" y="266.8" width="2.8" height="2.8" fill="#fff" stroke="#000" stroke-width="1.2"/>
<rect x="444.7" y="263.3" width="2.8" height="2.8" fill="#fff" stroke="#000" stroke-width="1.2"/>
<rect x="448.4" y="266.8" width="2.8" height="2.8" fill="#fff" stroke="#000" stroke-width="1.2"/>
<rect x="448.4" y="263.3" width="2.8" height="2.8" fill="#fff" stroke="#000" stroke-width="1.2"/>
<rect x="452.2" y="266.8" width="2.8" height="2.8" fill="#fff" stroke="#000" stroke-width="1.2"/>
<rect x="452.2" y="263.3" width="2.8" height="2.8" fill="#fff" stroke="#000" stroke-width="1.2"/>
<rect x="455.9" y="266.8" width="2.8" height="2.8" fill="#fff" stroke="#000" stroke-width="1.2"/>
<rect x="455.9" y="263.3" width="2.8" height="2.8" fill="#fff" stroke="#000" stroke-width="1.2"/>
<rect x="459.6" y="266.8" width="2.8" height="2.8" fill="#fff" stroke="#000" stroke-width="1.2"/>
<rect x="459.6" y="263.3" width="2.8" height="2.8" fill="#fff" stroke="#000" stroke-width="1.2"/>
<rect x="463.3" y="266.8" width="2.8" height="2.8" fill="#fff" stroke="#000" stroke-width="1.2"/>
<rect x="463.3" y="263.3" width="2.8" height="2.8" fill="#fff" stroke="#000" stroke-width="1.2"/>
<circle cx="457.2" cy="134.7" r="2.0" fill="#E8275F" stroke="#1c0810" stroke-width="1.1"/>
<circle cx="464.6" cy="139.1" r="2.0" fill="#E8275F" stroke="#1c0810" stroke-width="1.1"/>
<circle cx="464.6" cy="159.3" r="2.0" fill="#E8275F" stroke="#1c0810" stroke-width="1.1"/>
<circle cx="457.2" cy="169.4" r="2.0" fill="#E8275F" stroke="#1c0810" stroke-width="1.1"/>
<circle cx="464.6" cy="171.8" r="2.0" fill="#E8275F" stroke="#1c0810" stroke-width="1.1"/>
<circle cx="453.6" cy="184.7" r="2.0" fill="#E8275F" stroke="#1c0810" stroke-width="1.1"/>
<circle cx="457.2" cy="189.6" r="2.0" fill="#E8275F" stroke="#1c0810" stroke-width="1.1"/>
<circle cx="457.2" cy="194.3" r="2.0" fill="#E8275F" stroke="#1c0810" stroke-width="1.1"/>
<circle cx="464.6" cy="190.9" r="2.0" fill="#E8275F" stroke="#1c0810" stroke-width="1.1"/>
<circle cx="449.7" cy="204.4" r="2.0" fill="#E8275F" stroke="#1c0810" stroke-width="1.1"/>
<circle cx="464.6" cy="209.1" r="2.0" fill="#E8275F" stroke="#1c0810" stroke-width="1.1"/>
<circle cx="434.7" cy="225.1" r="2.0" fill="#E8275F" stroke="#1c0810" stroke-width="1.1"/>
<circle cx="434.7" cy="237.8" r="2.0" fill="#E8275F" stroke="#1c0810" stroke-width="1.1"/>
<circle cx="438.4" cy="237.8" r="2.0" fill="#E8275F" stroke="#1c0810" stroke-width="1.1"/>
<circle cx="434.7" cy="242.3" r="2.0" fill="#E8275F" stroke="#1c0810" stroke-width="1.1"/>
<circle cx="434.7" cy="245.7" r="2.0" fill="#E8275F" stroke="#1c0810" stroke-width="1.1"/>
<circle cx="441.6" cy="233.5" r="2.0" fill="#E8275F" stroke="#1c0810" stroke-width="1.1"/>
<circle cx="442.1" cy="239.4" r="2.0" fill="#E8275F" stroke="#1c0810" stroke-width="1.1"/>
<circle cx="442.1" cy="245.2" r="2.0" fill="#E8275F" stroke="#1c0810" stroke-width="1.1"/>
<circle cx="442.1" cy="248.9" r="2.0" fill="#E8275F" stroke="#1c0810" stroke-width="1.1"/>
<circle cx="419.6" cy="246.8" r="2.0" fill="#E8275F" stroke="#1c0810" stroke-width="1.1"/>
<circle cx="419.6" cy="250.5" r="2.0" fill="#E8275F" stroke="#1c0810" stroke-width="1.1"/>
<circle cx="431.0" cy="248.9" r="2.0" fill="#E8275F" stroke="#1c0810" stroke-width="1.1"/>
<circle cx="434.7" cy="251.0" r="2.0" fill="#E8275F" stroke="#1c0810" stroke-width="1.1"/>
<circle cx="423.6" cy="252.1" r="2.0" fill="#E8275F" stroke="#1c0810" stroke-width="1.1"/>
<circle cx="411.9" cy="253.7" r="2.0" fill="#E8275F" stroke="#1c0810" stroke-width="1.1"/>
<circle cx="404.7" cy="255.0" r="2.0" fill="#E8275F" stroke="#1c0810" stroke-width="1.1"/>
<circle cx="360.2" cy="268.5" r="2.0" fill="#E8275F" stroke="#1c0810" stroke-width="1.1"/>
<circle cx="364.3" cy="268.5" r="2.0" fill="#E8275F" stroke="#1c0810" stroke-width="1.1"/>
<circle cx="367.9" cy="268.5" r="2.0" fill="#E8275F" stroke="#1c0810" stroke-width="1.1"/>
<circle cx="371.7" cy="268.5" r="2.0" fill="#E8275F" stroke="#1c0810" stroke-width="1.1"/>
<circle cx="375.3" cy="268.5" r="2.0" fill="#E8275F" stroke="#1c0810" stroke-width="1.1"/>
<circle cx="479.4" cy="218.3" r="2.0" fill="#E8275F" stroke="#1c0810" stroke-width="1.1"/>
<circle cx="464.6" cy="224.8" r="2.0" fill="#E8275F" stroke="#1c0810" stroke-width="1.1"/>
<circle cx="457.2" cy="230.1" r="2.0" fill="#E8275F" stroke="#1c0810" stroke-width="1.1"/>
<circle cx="449.7" cy="228.0" r="2.0" fill="#E8275F" stroke="#1c0810" stroke-width="1.1"/>
<circle cx="457.2" cy="235.4" r="2.0" fill="#E8275F" stroke="#1c0810" stroke-width="1.1"/>
<circle cx="457.2" cy="239.1" r="2.0" fill="#E8275F" stroke="#1c0810" stroke-width="1.1"/>
<circle cx="457.2" cy="242.8" r="2.0" fill="#E8275F" stroke="#1c0810" stroke-width="1.1"/>
<circle cx="457.2" cy="246.5" r="2.0" fill="#E8275F" stroke="#1c0810" stroke-width="1.1"/>
<circle cx="449.7" cy="240.2" r="2.0" fill="#E8275F" stroke="#1c0810" stroke-width="1.1"/>
<circle cx="449.7" cy="243.9" r="2.0" fill="#E8275F" stroke="#1c0810" stroke-width="1.1"/>
<circle cx="449.7" cy="247.6" r="2.0" fill="#E8275F" stroke="#1c0810" stroke-width="1.1"/>
<circle cx="457.2" cy="257.0" r="2.0" fill="#E8275F" stroke="#1c0810" stroke-width="1.1"/>
<circle cx="449.6" cy="256.0" r="2.0" fill="#E8275F" stroke="#1c0810" stroke-width="1.1"/>
<circle cx="457.2" cy="232.6" r="2.0" fill="#E8275F" stroke="#1c0810" stroke-width="1.1"/>
<circle cx="457.2" cy="241.0" r="2.0" fill="#E8275F" stroke="#1c0810" stroke-width="1.1"/>
<circle cx="457.2" cy="249.0" r="2.0" fill="#E8275F" stroke="#1c0810" stroke-width="1.1"/>
<circle cx="449.7" cy="232.0" r="2.0" fill="#E8275F" stroke="#1c0810" stroke-width="1.1"/>
<circle cx="449.7" cy="236.5" r="2.0" fill="#E8275F" stroke="#1c0810" stroke-width="1.1"/>
<circle cx="449.7" cy="251.0" r="2.0" fill="#E8275F" stroke="#1c0810" stroke-width="1.1"/>
<circle cx="441.9" cy="252.0" r="2.0" fill="#E8275F" stroke="#1c0810" stroke-width="1.1"/>
<circle cx="445.8" cy="254.5" r="2.0" fill="#E8275F" stroke="#1c0810" stroke-width="1.1"/>
<circle cx="390.1" cy="265.8" r="2.0" fill="#E8275F" stroke="#1c0810" stroke-width="1.1"/>
<circle cx="390.1" cy="268.7" r="2.0" fill="#E8275F" stroke="#1c0810" stroke-width="1.1"/>
<circle cx="393.9" cy="262.9" r="2.0" fill="#E8275F" stroke="#1c0810" stroke-width="1.1"/>
<circle cx="393.9" cy="268.7" r="2.0" fill="#E8275F" stroke="#1c0810" stroke-width="1.1"/>
<circle cx="397.6" cy="265.8" r="2.0" fill="#E8275F" stroke="#1c0810" stroke-width="1.1"/>
<circle cx="397.6" cy="268.7" r="2.0" fill="#E8275F" stroke="#1c0810" stroke-width="1.1"/>
<circle cx="401.3" cy="263.4" r="2.0" fill="#E8275F" stroke="#1c0810" stroke-width="1.1"/>
<circle cx="401.3" cy="266.6" r="2.0" fill="#E8275F" stroke="#1c0810" stroke-width="1.1"/>
<circle cx="401.3" cy="269.3" r="2.0" fill="#E8275F" stroke="#1c0810" stroke-width="1.1"/>
<circle cx="405.1" cy="260.0" r="2.0" fill="#E8275F" stroke="#1c0810" stroke-width="1.1"/>
<circle cx="405.1" cy="264.0" r="2.0" fill="#E8275F" stroke="#1c0810" stroke-width="1.1"/>
<circle cx="405.1" cy="268.0" r="2.0" fill="#E8275F" stroke="#1c0810" stroke-width="1.1"/>
<circle cx="408.8" cy="261.8" r="2.0" fill="#E8275F" stroke="#1c0810" stroke-width="1.1"/>
<circle cx="412.5" cy="258.1" r="2.0" fill="#E8275F" stroke="#1c0810" stroke-width="1.1"/>
<circle cx="412.5" cy="261.8" r="2.0" fill="#E8275F" stroke="#1c0810" stroke-width="1.1"/>
<circle cx="416.2" cy="264.0" r="2.0" fill="#E8275F" stroke="#1c0810" stroke-width="1.1"/>
<circle cx="416.2" cy="267.5" r="2.0" fill="#E8275F" stroke="#1c0810" stroke-width="1.1"/>
<circle cx="420.0" cy="248.1" r="2.0" fill="#E8275F" stroke="#1c0810" stroke-width="1.1"/>
<circle cx="420.0" cy="258.1" r="2.0" fill="#E8275F" stroke="#1c0810" stroke-width="1.1"/>
<circle cx="420.0" cy="262.0" r="2.0" fill="#E8275F" stroke="#1c0810" stroke-width="1.1"/>
<circle cx="423.7" cy="256.0" r="2.0" fill="#E8275F" stroke="#1c0810" stroke-width="1.1"/>
<circle cx="423.7" cy="259.7" r="2.0" fill="#E8275F" stroke="#1c0810" stroke-width="1.1"/>
<circle cx="427.4" cy="256.5" r="2.0" fill="#E8275F" stroke="#1c0810" stroke-width="1.1"/>
<circle cx="427.4" cy="260.2" r="2.0" fill="#E8275F" stroke="#1c0810" stroke-width="1.1"/>
<circle cx="431.2" cy="254.4" r="2.0" fill="#E8275F" stroke="#1c0810" stroke-width="1.1"/>
<circle cx="431.2" cy="260.2" r="2.0" fill="#E8275F" stroke="#1c0810" stroke-width="1.1"/>
<circle cx="434.9" cy="253.9" r="2.0" fill="#E8275F" stroke="#1c0810" stroke-width="1.1"/>
<circle cx="434.9" cy="257.6" r="2.0" fill="#E8275F" stroke="#1c0810" stroke-width="1.1"/>
<circle cx="434.9" cy="261.3" r="2.0" fill="#E8275F" stroke="#1c0810" stroke-width="1.1"/>
<circle cx="438.6" cy="257.1" r="2.0" fill="#E8275F" stroke="#1c0810" stroke-width="1.1"/>
<circle cx="438.6" cy="261.3" r="2.0" fill="#E8275F" stroke="#1c0810" stroke-width="1.1"/>
<circle cx="438.6" cy="265.0" r="2.0" fill="#E8275F" stroke="#1c0810" stroke-width="1.1"/>
<circle cx="442.4" cy="260.2" r="2.0" fill="#E8275F" stroke="#1c0810" stroke-width="1.1"/>
<circle cx="446.1" cy="259.5" r="2.0" fill="#E8275F" stroke="#1c0810" stroke-width="1.1"/>
<circle cx="449.8" cy="248.6" r="2.0" fill="#E8275F" stroke="#1c0810" stroke-width="1.1"/>
<circle cx="449.8" cy="257.1" r="2.0" fill="#E8275F" stroke="#1c0810" stroke-width="1.1"/>
<circle cx="449.8" cy="261.5" r="2.0" fill="#E8275F" stroke="#1c0810" stroke-width="1.1"/>
<circle cx="453.6" cy="251.2" r="2.0" fill="#E8275F" stroke="#1c0810" stroke-width="1.1"/>
<circle cx="453.6" cy="256.0" r="2.0" fill="#E8275F" stroke="#1c0810" stroke-width="1.1"/>
<circle cx="453.6" cy="260.5" r="2.0" fill="#E8275F" stroke="#1c0810" stroke-width="1.1"/>
<circle cx="457.3" cy="244.0" r="2.0" fill="#E8275F" stroke="#1c0810" stroke-width="1.1"/>
<circle cx="457.3" cy="247.5" r="2.0" fill="#E8275F" stroke="#1c0810" stroke-width="1.1"/>
<circle cx="457.3" cy="251.0" r="2.0" fill="#E8275F" stroke="#1c0810" stroke-width="1.1"/>
<circle cx="457.3" cy="255.0" r="2.0" fill="#E8275F" stroke="#1c0810" stroke-width="1.1"/>
<circle cx="457.3" cy="259.0" r="2.0" fill="#E8275F" stroke="#1c0810" stroke-width="1.1"/>
<circle cx="461.0" cy="253.0" r="2.0" fill="#E8275F" stroke="#1c0810" stroke-width="1.1"/>
<circle cx="461.0" cy="258.0" r="2.0" fill="#E8275F" stroke="#1c0810" stroke-width="1.1"/>
<circle cx="461.0" cy="262.5" r="2.0" fill="#E8275F" stroke="#1c0810" stroke-width="1.1"/>
<circle cx="464.7" cy="250.0" r="2.0" fill="#E8275F" stroke="#1c0810" stroke-width="1.1"/>
<circle cx="464.7" cy="255.0" r="2.0" fill="#E8275F" stroke="#1c0810" stroke-width="1.1"/>
<circle cx="464.7" cy="260.0" r="2.0" fill="#E8275F" stroke="#1c0810" stroke-width="1.1"/>
<circle cx="390.1" cy="262.0" r="2.0" fill="#E8275F" stroke="#1c0810" stroke-width="1.1"/>
<circle cx="393.9" cy="265.3" r="2.0" fill="#E8275F" stroke="#1c0810" stroke-width="1.1"/>
<circle cx="397.6" cy="262.0" r="2.0" fill="#E8275F" stroke="#1c0810" stroke-width="1.1"/>
<circle cx="401.3" cy="262.0" r="2.0" fill="#E8275F" stroke="#1c0810" stroke-width="1.1"/>
<circle cx="401.3" cy="265.3" r="2.0" fill="#E8275F" stroke="#1c0810" stroke-width="1.1"/>
<circle cx="405.1" cy="262.0" r="2.0" fill="#E8275F" stroke="#1c0810" stroke-width="1.1"/>
<circle cx="405.1" cy="265.3" r="2.0" fill="#E8275F" stroke="#1c0810" stroke-width="1.1"/>
<circle cx="412.5" cy="265.2" r="2.0" fill="#E8275F" stroke="#1c0810" stroke-width="1.1"/>
<circle cx="416.2" cy="261.6" r="2.0" fill="#E8275F" stroke="#1c0810" stroke-width="1.1"/>
<circle cx="423.7" cy="261.6" r="2.0" fill="#E8275F" stroke="#1c0810" stroke-width="1.1"/>
<circle cx="423.7" cy="268.6" r="2.0" fill="#E8275F" stroke="#1c0810" stroke-width="1.1"/>
<circle cx="427.4" cy="261.6" r="2.0" fill="#E8275F" stroke="#1c0810" stroke-width="1.1"/>
<circle cx="431.2" cy="261.6" r="2.0" fill="#E8275F" stroke="#1c0810" stroke-width="1.1"/>
<circle cx="434.9" cy="265.2" r="2.0" fill="#E8275F" stroke="#1c0810" stroke-width="1.1"/>
<circle cx="442.4" cy="261.6" r="2.0" fill="#E8275F" stroke="#1c0810" stroke-width="1.1"/>
<circle cx="446.1" cy="261.6" r="2.0" fill="#E8275F" stroke="#1c0810" stroke-width="1.1"/>
<circle cx="453.6" cy="265.2" r="2.0" fill="#E8275F" stroke="#1c0810" stroke-width="1.1"/>
<rect x="485.1" y="248.9" width="3.6" height="3.6" fill="#fff" stroke="#111" stroke-width="0.9"/>
<rect x="485.1" y="254.4" width="3.6" height="3.6" fill="#fff" stroke="#111" stroke-width="0.9"/>
<rect x="477.6" y="254.2" width="3.6" height="3.6" fill="#fff" stroke="#111" stroke-width="0.9"/>
<rect x="477.6" y="258.4" width="3.6" height="3.6" fill="#fff" stroke="#111" stroke-width="0.9"/>
<rect x="473.8" y="255.8" width="3.6" height="3.6" fill="#fff" stroke="#111" stroke-width="0.9"/>
<rect x="473.8" y="260.0" width="3.6" height="3.6" fill="#fff" stroke="#111" stroke-width="0.9"/>
<rect x="466.4" y="257.9" width="3.6" height="3.6" fill="#fff" stroke="#111" stroke-width="0.9"/>
<rect x="466.4" y="261.1" width="3.6" height="3.6" fill="#fff" stroke="#111" stroke-width="0.9"/>
<rect x="469.9" y="261.1" width="3.6" height="3.6" fill="#fff" stroke="#111" stroke-width="0.9"/>
<rect x="462.5" y="260.0" width="3.6" height="3.6" fill="#fff" stroke="#111" stroke-width="0.9"/>
<rect x="455.1" y="259.5" width="3.6" height="3.6" fill="#fff" stroke="#111" stroke-width="0.9"/>
<rect x="458.8" y="262.2" width="3.6" height="3.6" fill="#fff" stroke="#111" stroke-width="0.9"/>
<rect x="451.4" y="263.2" width="3.6" height="3.6" fill="#fff" stroke="#111" stroke-width="0.9"/>
<rect x="455.1" y="264.8" width="3.6" height="3.6" fill="#fff" stroke="#111" stroke-width="0.9"/>
<rect x="462.5" y="264.3" width="3.6" height="3.6" fill="#fff" stroke="#111" stroke-width="0.9"/>
<rect x="466.4" y="264.3" width="3.6" height="3.6" fill="#fff" stroke="#111" stroke-width="0.9"/>
<rect x="469.9" y="264.3" width="3.6" height="3.6" fill="#fff" stroke="#111" stroke-width="0.9"/>
<rect x="473.8" y="263.5" width="3.6" height="3.6" fill="#fff" stroke="#111" stroke-width="0.9"/>
<rect x="477.6" y="264.0" width="3.6" height="3.6" fill="#fff" stroke="#111" stroke-width="0.9"/>
<rect x="481.6" y="261.6" width="3.6" height="3.6" fill="#fff" stroke="#111" stroke-width="0.9"/>
<rect x="492.5" y="260.4" width="3.6" height="3.6" fill="#fff" stroke="#111" stroke-width="0.9"/>
<rect x="492.5" y="263.7" width="3.6" height="3.6" fill="#fff" stroke="#111" stroke-width="0.9"/>
<rect x="380.6" y="266.7" width="3.6" height="3.6" fill="#000"/>
<rect x="507.3" y="266.9" width="3.6" height="3.6" fill="#000"/>
<rect x="511.5" y="263.2" width="3.6" height="3.6" fill="#000"/>
<rect x="457.2" y="266.8" width="3.6" height="3.6" fill="#000"/>
<rect x="460.4" y="266.8" width="3.6" height="3.6" fill="#000"/>
<rect x="463.6" y="266.8" width="3.6" height="3.6" fill="#000"/>
<rect x="466.8" y="266.8" width="3.6" height="3.6" fill="#000"/>
<rect x="470.0" y="266.8" width="3.6" height="3.6" fill="#000"/>
<rect x="473.2" y="266.8" width="3.6" height="3.6" fill="#000"/>
<rect x="476.4" y="266.8" width="3.6" height="3.6" fill="#000"/>
<rect x="479.6" y="266.8" width="3.6" height="3.6" fill="#000"/>
<rect x="482.8" y="266.8" width="3.6" height="3.6" fill="#000"/>
<rect x="486.0" y="266.8" width="3.6" height="3.6" fill="#000"/>
<rect x="489.2" y="266.8" width="3.6" height="3.6" fill="#000"/>
<rect x="492.4" y="266.8" width="3.6" height="3.6" fill="#000"/>
<rect x="495.6" y="266.8" width="3.6" height="3.6" fill="#000"/>
<rect x="498.8" y="266.8" width="3.6" height="3.6" fill="#000"/>
<rect x="479.2" y="264.2" width="3.6" height="3.6" fill="#000"/>
<rect x="482.7" y="264.2" width="3.6" height="3.6" fill="#000"/>
<rect x="486.2" y="264.2" width="3.6" height="3.6" fill="#000"/>
<rect x="489.7" y="264.2" width="3.6" height="3.6" fill="#000"/>
<rect x="493.2" y="264.2" width="3.6" height="3.6" fill="#000"/>
<rect x="496.7" y="264.2" width="3.6" height="3.6" fill="#000"/>
<rect x="488.7" y="263.0" width="3.6" height="3.6" fill="#000"/>
<rect x="495.7" y="263.0" width="3.6" height="3.6" fill="#000"/>
<rect x="497.7" y="263.0" width="3.6" height="3.6" fill="#000"/>
<polygon points="442.1,217.2 444.4,220.8 439.9,220.8" fill="#E8275F" stroke="#E8275F" stroke-width="0.8"/>
<polygon points="427.3,243.1 429.6,246.7 425.1,246.7" fill="#E8275F" stroke="#E8275F" stroke-width="0.8"/>
<circle cx="427.3" cy="238.3" r="2.1" fill="#fff" stroke="#111" stroke-width="0.9"/>
<rect x="70.8" y="43.0" width="185.89999999999998" height="233.2" stroke="#151515" stroke-width="1.2" fill="none"/>
<line x1="68.2" y1="276.3" x2="70.8" y2="276.3" stroke="#111" stroke-width="1.05"/>
<line x1="254.1" y1="276.3" x2="256.7" y2="276.3" stroke="#111" stroke-width="1.05"/>
<line x1="69.2" y1="257.2" x2="70.8" y2="257.2" stroke="#111" stroke-width="1.05"/>
<line x1="255.1" y1="257.2" x2="256.7" y2="257.2" stroke="#111" stroke-width="1.05"/>
<line x1="68.2" y1="238.1" x2="70.8" y2="238.1" stroke="#111" stroke-width="1.05"/>
<line x1="254.1" y1="238.1" x2="256.7" y2="238.1" stroke="#111" stroke-width="1.05"/>
<line x1="69.2" y1="219.1" x2="70.8" y2="219.1" stroke="#111" stroke-width="1.05"/>
<line x1="255.1" y1="219.1" x2="256.7" y2="219.1" stroke="#111" stroke-width="1.05"/>
<line x1="68.2" y1="200.0" x2="70.8" y2="200.0" stroke="#111" stroke-width="1.05"/>
<line x1="254.1" y1="200.0" x2="256.7" y2="200.0" stroke="#111" stroke-width="1.05"/>
<line x1="69.2" y1="180.9" x2="70.8" y2="180.9" stroke="#111" stroke-width="1.05"/>
<line x1="255.1" y1="180.9" x2="256.7" y2="180.9" stroke="#111" stroke-width="1.05"/>
<line x1="68.2" y1="161.8" x2="70.8" y2="161.8" stroke="#111" stroke-width="1.05"/>
<line x1="254.1" y1="161.8" x2="256.7" y2="161.8" stroke="#111" stroke-width="1.05"/>
<line x1="69.2" y1="142.7" x2="70.8" y2="142.7" stroke="#111" stroke-width="1.05"/>
<line x1="255.1" y1="142.7" x2="256.7" y2="142.7" stroke="#111" stroke-width="1.05"/>
<line x1="68.2" y1="123.6" x2="70.8" y2="123.6" stroke="#111" stroke-width="1.05"/>
<line x1="254.1" y1="123.6" x2="256.7" y2="123.6" stroke="#111" stroke-width="1.05"/>
<line x1="69.2" y1="104.6" x2="70.8" y2="104.6" stroke="#111" stroke-width="1.05"/>
<line x1="255.1" y1="104.6" x2="256.7" y2="104.6" stroke="#111" stroke-width="1.05"/>
<line x1="68.2" y1="85.5" x2="70.8" y2="85.5" stroke="#111" stroke-width="1.05"/>
<line x1="254.1" y1="85.5" x2="256.7" y2="85.5" stroke="#111" stroke-width="1.05"/>
<line x1="69.2" y1="66.4" x2="70.8" y2="66.4" stroke="#111" stroke-width="1.05"/>
<line x1="255.1" y1="66.4" x2="256.7" y2="66.4" stroke="#111" stroke-width="1.05"/>
<line x1="68.2" y1="47.3" x2="70.8" y2="47.3" stroke="#111" stroke-width="1.05"/>
<line x1="254.1" y1="47.3" x2="256.7" y2="47.3" stroke="#111" stroke-width="1.05"/>
<line x1="77.1" y1="276.2" x2="77.1" y2="279.4" stroke="#111" stroke-width="1.05"/>
<line x1="77.1" y1="43.0" x2="77.1" y2="45.6" stroke="#111" stroke-width="1.05"/>
<line x1="83.6" y1="276.2" x2="83.6" y2="279.4" stroke="#111" stroke-width="1.05"/>
<line x1="83.6" y1="43.0" x2="83.6" y2="45.6" stroke="#111" stroke-width="1.05"/>
<line x1="89.0" y1="276.2" x2="89.0" y2="279.4" stroke="#111" stroke-width="1.05"/>
<line x1="89.0" y1="43.0" x2="89.0" y2="45.6" stroke="#111" stroke-width="1.05"/>
<line x1="93.8" y1="276.2" x2="93.8" y2="279.4" stroke="#111" stroke-width="1.05"/>
<line x1="93.8" y1="43.0" x2="93.8" y2="45.6" stroke="#111" stroke-width="1.05"/>
<line x1="98.0" y1="276.2" x2="98.0" y2="279.4" stroke="#111" stroke-width="1.05"/>
<line x1="98.0" y1="43.0" x2="98.0" y2="45.6" stroke="#111" stroke-width="1.05"/>
<line x1="101.7" y1="276.2" x2="101.7" y2="279.4" stroke="#111" stroke-width="1.05"/>
<line x1="101.7" y1="43.0" x2="101.7" y2="45.6" stroke="#111" stroke-width="1.05"/>
<line x1="126.3" y1="276.2" x2="126.3" y2="279.4" stroke="#111" stroke-width="1.05"/>
<line x1="126.3" y1="43.0" x2="126.3" y2="45.6" stroke="#111" stroke-width="1.05"/>
<line x1="140.7" y1="276.2" x2="140.7" y2="279.4" stroke="#111" stroke-width="1.05"/>
<line x1="140.7" y1="43.0" x2="140.7" y2="45.6" stroke="#111" stroke-width="1.05"/>
<line x1="150.9" y1="276.2" x2="150.9" y2="279.4" stroke="#111" stroke-width="1.05"/>
<line x1="150.9" y1="43.0" x2="150.9" y2="45.6" stroke="#111" stroke-width="1.05"/>
<line x1="158.8" y1="276.2" x2="158.8" y2="279.4" stroke="#111" stroke-width="1.05"/>
<line x1="158.8" y1="43.0" x2="158.8" y2="45.6" stroke="#111" stroke-width="1.05"/>
<line x1="165.3" y1="276.2" x2="165.3" y2="279.4" stroke="#111" stroke-width="1.05"/>
<line x1="165.3" y1="43.0" x2="165.3" y2="45.6" stroke="#111" stroke-width="1.05"/>
<line x1="170.7" y1="276.2" x2="170.7" y2="279.4" stroke="#111" stroke-width="1.05"/>
<line x1="170.7" y1="43.0" x2="170.7" y2="45.6" stroke="#111" stroke-width="1.05"/>
<line x1="175.5" y1="276.2" x2="175.5" y2="279.4" stroke="#111" stroke-width="1.05"/>
<line x1="175.5" y1="43.0" x2="175.5" y2="45.6" stroke="#111" stroke-width="1.05"/>
<line x1="179.7" y1="276.2" x2="179.7" y2="279.4" stroke="#111" stroke-width="1.05"/>
<line x1="179.7" y1="43.0" x2="179.7" y2="45.6" stroke="#111" stroke-width="1.05"/>
<line x1="183.4" y1="276.2" x2="183.4" y2="279.4" stroke="#111" stroke-width="1.05"/>
<line x1="183.4" y1="43.0" x2="183.4" y2="45.6" stroke="#111" stroke-width="1.05"/>
<line x1="208.0" y1="276.2" x2="208.0" y2="279.4" stroke="#111" stroke-width="1.05"/>
<line x1="208.0" y1="43.0" x2="208.0" y2="45.6" stroke="#111" stroke-width="1.05"/>
<line x1="222.4" y1="276.2" x2="222.4" y2="279.4" stroke="#111" stroke-width="1.05"/>
<line x1="222.4" y1="43.0" x2="222.4" y2="45.6" stroke="#111" stroke-width="1.05"/>
<line x1="232.6" y1="276.2" x2="232.6" y2="279.4" stroke="#111" stroke-width="1.05"/>
<line x1="232.6" y1="43.0" x2="232.6" y2="45.6" stroke="#111" stroke-width="1.05"/>
<line x1="240.5" y1="276.2" x2="240.5" y2="279.4" stroke="#111" stroke-width="1.05"/>
<line x1="240.5" y1="43.0" x2="240.5" y2="45.6" stroke="#111" stroke-width="1.05"/>
<line x1="70.8" y1="276.2" x2="70.8" y2="279.4" stroke="#111" stroke-width="1.05"/>
<path d="M341.3,97.2 V42.5 H527.8 V97.2 M527.8,104.6 V276.6 H341.3 V104.6" stroke="#151515" stroke-width="1.2" fill="none"/>
<line x1="337.7" y1="100.9" x2="345.5" y2="93.4" stroke="#111" stroke-width="1.05"/>
<line x1="337.7" y1="108.2" x2="345.5" y2="100.7" stroke="#111" stroke-width="1.05"/>
<line x1="524.1999999999999" y1="100.9" x2="532.0" y2="93.4" stroke="#111" stroke-width="1.05"/>
<line x1="524.1999999999999" y1="108.2" x2="532.0" y2="100.7" stroke="#111" stroke-width="1.05"/>
<line x1="338.7" y1="273.0" x2="341.3" y2="273.0" stroke="#111" stroke-width="1.05"/>
<line x1="525.2" y1="273.0" x2="527.8" y2="273.0" stroke="#111" stroke-width="1.05"/>
<line x1="339.7" y1="261.8" x2="341.3" y2="261.8" stroke="#111" stroke-width="1.05"/>
<line x1="526.2" y1="261.8" x2="527.8" y2="261.8" stroke="#111" stroke-width="1.05"/>
<line x1="339.7" y1="250.6" x2="341.3" y2="250.6" stroke="#111" stroke-width="1.05"/>
<line x1="526.2" y1="250.6" x2="527.8" y2="250.6" stroke="#111" stroke-width="1.05"/>
<line x1="339.7" y1="239.4" x2="341.3" y2="239.4" stroke="#111" stroke-width="1.05"/>
<line x1="526.2" y1="239.4" x2="527.8" y2="239.4" stroke="#111" stroke-width="1.05"/>
<line x1="339.7" y1="228.2" x2="341.3" y2="228.2" stroke="#111" stroke-width="1.05"/>
<line x1="526.2" y1="228.2" x2="527.8" y2="228.2" stroke="#111" stroke-width="1.05"/>
<line x1="338.7" y1="217.0" x2="341.3" y2="217.0" stroke="#111" stroke-width="1.05"/>
<line x1="525.2" y1="217.0" x2="527.8" y2="217.0" stroke="#111" stroke-width="1.05"/>
<line x1="339.7" y1="205.8" x2="341.3" y2="205.8" stroke="#111" stroke-width="1.05"/>
<line x1="526.2" y1="205.8" x2="527.8" y2="205.8" stroke="#111" stroke-width="1.05"/>
<line x1="339.7" y1="194.6" x2="341.3" y2="194.6" stroke="#111" stroke-width="1.05"/>
<line x1="526.2" y1="194.6" x2="527.8" y2="194.6" stroke="#111" stroke-width="1.05"/>
<line x1="339.7" y1="183.4" x2="341.3" y2="183.4" stroke="#111" stroke-width="1.05"/>
<line x1="526.2" y1="183.4" x2="527.8" y2="183.4" stroke="#111" stroke-width="1.05"/>
<line x1="339.7" y1="172.2" x2="341.3" y2="172.2" stroke="#111" stroke-width="1.05"/>
<line x1="526.2" y1="172.2" x2="527.8" y2="172.2" stroke="#111" stroke-width="1.05"/>
<line x1="338.7" y1="161.0" x2="341.3" y2="161.0" stroke="#111" stroke-width="1.05"/>
<line x1="525.2" y1="161.0" x2="527.8" y2="161.0" stroke="#111" stroke-width="1.05"/>
<line x1="339.7" y1="149.8" x2="341.3" y2="149.8" stroke="#111" stroke-width="1.05"/>
<line x1="526.2" y1="149.8" x2="527.8" y2="149.8" stroke="#111" stroke-width="1.05"/>
<line x1="339.7" y1="138.6" x2="341.3" y2="138.6" stroke="#111" stroke-width="1.05"/>
<line x1="526.2" y1="138.6" x2="527.8" y2="138.6" stroke="#111" stroke-width="1.05"/>
<line x1="339.7" y1="127.4" x2="341.3" y2="127.4" stroke="#111" stroke-width="1.05"/>
<line x1="526.2" y1="127.4" x2="527.8" y2="127.4" stroke="#111" stroke-width="1.05"/>
<line x1="339.7" y1="116.2" x2="341.3" y2="116.2" stroke="#111" stroke-width="1.05"/>
<line x1="526.2" y1="116.2" x2="527.8" y2="116.2" stroke="#111" stroke-width="1.05"/>
<line x1="338.7" y1="91.0" x2="341.3" y2="91.0" stroke="#111" stroke-width="1.05"/>
<line x1="525.2" y1="91.0" x2="527.8" y2="91.0" stroke="#111" stroke-width="1.05"/>
<line x1="339.7" y1="85.5" x2="341.3" y2="85.5" stroke="#111" stroke-width="1.05"/>
<line x1="526.2" y1="85.5" x2="527.8" y2="85.5" stroke="#111" stroke-width="1.05"/>
<line x1="339.7" y1="79.9" x2="341.3" y2="79.9" stroke="#111" stroke-width="1.05"/>
<line x1="526.2" y1="79.9" x2="527.8" y2="79.9" stroke="#111" stroke-width="1.05"/>
<line x1="339.7" y1="74.3" x2="341.3" y2="74.3" stroke="#111" stroke-width="1.05"/>
<line x1="526.2" y1="74.3" x2="527.8" y2="74.3" stroke="#111" stroke-width="1.05"/>
<line x1="338.7" y1="68.8" x2="341.3" y2="68.8" stroke="#111" stroke-width="1.05"/>
<line x1="525.2" y1="68.8" x2="527.8" y2="68.8" stroke="#111" stroke-width="1.05"/>
<line x1="339.7" y1="63.2" x2="341.3" y2="63.2" stroke="#111" stroke-width="1.05"/>
<line x1="526.2" y1="63.2" x2="527.8" y2="63.2" stroke="#111" stroke-width="1.05"/>
<line x1="339.7" y1="57.7" x2="341.3" y2="57.7" stroke="#111" stroke-width="1.05"/>
<line x1="526.2" y1="57.7" x2="527.8" y2="57.7" stroke="#111" stroke-width="1.05"/>
<line x1="339.7" y1="52.2" x2="341.3" y2="52.2" stroke="#111" stroke-width="1.05"/>
<line x1="526.2" y1="52.2" x2="527.8" y2="52.2" stroke="#111" stroke-width="1.05"/>
<line x1="338.7" y1="46.6" x2="341.3" y2="46.6" stroke="#111" stroke-width="1.05"/>
<line x1="525.2" y1="46.6" x2="527.8" y2="46.6" stroke="#111" stroke-width="1.05"/>
<line x1="341.6" y1="276.6" x2="341.6" y2="279.8" stroke="#111" stroke-width="1.05"/>
<line x1="341.6" y1="42.5" x2="341.6" y2="44.5" stroke="#111" stroke-width="1.05"/>
<line x1="360.3" y1="276.6" x2="360.3" y2="279.8" stroke="#111" stroke-width="1.05"/>
<line x1="360.3" y1="42.5" x2="360.3" y2="45.1" stroke="#111" stroke-width="1.05"/>
<line x1="378.9" y1="276.6" x2="378.9" y2="279.8" stroke="#111" stroke-width="1.05"/>
<line x1="378.9" y1="42.5" x2="378.9" y2="44.5" stroke="#111" stroke-width="1.05"/>
<line x1="397.6" y1="276.6" x2="397.6" y2="279.8" stroke="#111" stroke-width="1.05"/>
<line x1="397.6" y1="42.5" x2="397.6" y2="45.1" stroke="#111" stroke-width="1.05"/>
<line x1="416.2" y1="276.6" x2="416.2" y2="279.8" stroke="#111" stroke-width="1.05"/>
<line x1="416.2" y1="42.5" x2="416.2" y2="44.5" stroke="#111" stroke-width="1.05"/>
<line x1="434.9" y1="276.6" x2="434.9" y2="279.8" stroke="#111" stroke-width="1.05"/>
<line x1="434.9" y1="42.5" x2="434.9" y2="45.1" stroke="#111" stroke-width="1.05"/>
<line x1="453.6" y1="276.6" x2="453.6" y2="279.8" stroke="#111" stroke-width="1.05"/>
<line x1="453.6" y1="42.5" x2="453.6" y2="44.5" stroke="#111" stroke-width="1.05"/>
<line x1="472.2" y1="276.6" x2="472.2" y2="279.8" stroke="#111" stroke-width="1.05"/>
<line x1="472.2" y1="42.5" x2="472.2" y2="45.1" stroke="#111" stroke-width="1.05"/>
<line x1="490.8" y1="276.6" x2="490.8" y2="279.8" stroke="#111" stroke-width="1.05"/>
<line x1="490.8" y1="42.5" x2="490.8" y2="44.5" stroke="#111" stroke-width="1.05"/>
<line x1="509.5" y1="276.6" x2="509.5" y2="279.8" stroke="#111" stroke-width="1.05"/>
<line x1="509.5" y1="42.5" x2="509.5" y2="45.1" stroke="#111" stroke-width="1.05"/>
<line x1="528.1" y1="276.6" x2="528.1" y2="279.8" stroke="#111" stroke-width="1.05"/>
<line x1="528.1" y1="42.5" x2="528.1" y2="44.5" stroke="#111" stroke-width="1.05"/>
<text x="280.2" y="14.2" font-size="18.72" font-family="'Liberation Serif','Times New Roman',serif" text-anchor="middle" fill="#111" font-weight="bold">Water Deprivation Test in Patients with Diabetes Insipidus</text>
<text x="61.6" y="283.1" font-size="14.2" font-family="'Liberation Sans',Arial,sans-serif" text-anchor="end" fill="#111" >0</text>
<text x="61.6" y="244.93333333333337" font-size="14.2" font-family="'Liberation Sans',Arial,sans-serif" text-anchor="end" fill="#111" >200</text>
<text x="61.6" y="206.7666666666667" font-size="14.2" font-family="'Liberation Sans',Arial,sans-serif" text-anchor="end" fill="#111" >400</text>
<text x="61.6" y="168.60000000000002" font-size="14.2" font-family="'Liberation Sans',Arial,sans-serif" text-anchor="end" fill="#111" >600</text>
<text x="61.6" y="130.43333333333337" font-size="14.2" font-family="'Liberation Sans',Arial,sans-serif" text-anchor="end" fill="#111" >800</text>
<text x="61.6" y="92.2666666666667" font-size="14.2" font-family="'Liberation Sans',Arial,sans-serif" text-anchor="end" fill="#111" >1000</text>
<text x="61.6" y="54.10000000000001" font-size="14.2" font-family="'Liberation Sans',Arial,sans-serif" text-anchor="end" fill="#111" >1200</text>
<text x="77.7" y="300.9" font-size="14.4" font-family="'Liberation Sans',Arial,sans-serif" text-anchor="middle" fill="#111" >0.5</text>
<text x="102.3" y="300.9" font-size="14.4" font-family="'Liberation Sans',Arial,sans-serif" text-anchor="middle" fill="#111" >1</text>
<text x="126.9" y="300.9" font-size="14.4" font-family="'Liberation Sans',Arial,sans-serif" text-anchor="middle" fill="#111" >2</text>
<text x="159.4" y="300.9" font-size="14.4" font-family="'Liberation Sans',Arial,sans-serif" text-anchor="middle" fill="#111" >5</text>
<text x="184.0" y="300.9" font-size="14.4" font-family="'Liberation Sans',Arial,sans-serif" text-anchor="middle" fill="#111" >10</text>
<text x="208.6" y="300.9" font-size="14.4" font-family="'Liberation Sans',Arial,sans-serif" text-anchor="middle" fill="#111" >20</text>
<text x="241.1" y="300.9" font-size="14.4" font-family="'Liberation Sans',Arial,sans-serif" text-anchor="middle" fill="#111" >50</text>
<text x="333.4" y="280.0" font-size="14.2" font-family="'Liberation Sans',Arial,sans-serif" text-anchor="end" fill="#111" >0</text>
<text x="333.4" y="224.0" font-size="14.2" font-family="'Liberation Sans',Arial,sans-serif" text-anchor="end" fill="#111" >5</text>
<text x="333.4" y="168.0" font-size="14.2" font-family="'Liberation Sans',Arial,sans-serif" text-anchor="end" fill="#111" >10</text>
<text x="333.4" y="111.4" font-size="14.2" font-family="'Liberation Sans',Arial,sans-serif" text-anchor="end" fill="#111" >15</text>
<text x="333.4" y="97.8" font-size="14.2" font-family="'Liberation Sans',Arial,sans-serif" text-anchor="end" fill="#111" >20</text>
<text x="333.4" y="74.6" font-size="14.2" font-family="'Liberation Sans',Arial,sans-serif" text-anchor="end" fill="#111" >40</text>
<text x="333.4" y="50.6" font-size="14.2" font-family="'Liberation Sans',Arial,sans-serif" text-anchor="end" fill="#111" >60</text>
<text x="360.9" y="300.9" font-size="14.2" font-family="'Liberation Sans',Arial,sans-serif" text-anchor="middle" fill="#111" >270</text>
<text x="398.2" y="300.9" font-size="14.2" font-family="'Liberation Sans',Arial,sans-serif" text-anchor="middle" fill="#111" >280</text>
<text x="435.5" y="300.9" font-size="14.2" font-family="'Liberation Sans',Arial,sans-serif" text-anchor="middle" fill="#111" >290</text>
<text x="472.8" y="300.9" font-size="14.2" font-family="'Liberation Sans',Arial,sans-serif" text-anchor="middle" fill="#111" >300</text>
<text x="510.1" y="300.9" font-size="14.2" font-family="'Liberation Sans',Arial,sans-serif" text-anchor="middle" fill="#111" >310</text>
<text x="91.0" y="332.8" font-size="17.1" font-family="'Liberation Sans',Arial,sans-serif" text-anchor="start" fill="#111" >Plasma AVP (pg/mL)</text>
<text x="319.4" y="330.8" font-size="16.65" font-family="'Liberation Sans',Arial,sans-serif" text-anchor="start" fill="#111" >Plasma Osmolality (mosmol/kg)</text>
<text x="0" y="0" font-size="16.7" font-family="'Liberation Sans',Arial,sans-serif" text-anchor="start" fill="#111" transform="translate(15.9,270.3) rotate(-90)">Urine Osmolality (mosmol/kg)</text>
<text x="0" y="0" font-size="17.2" font-family="'Liberation Sans',Arial,sans-serif" text-anchor="start" fill="#111" transform="translate(305.7,242.8) rotate(-90)">Plasma AVP (pg/mL)</text>
<text x="2.8" y="329.3" font-size="17.5" font-family="'Liberation Sans',Arial,sans-serif" text-anchor="start" fill="#111" font-weight="bold">a</text>
<text x="294.0" y="329.8" font-size="17.3" font-family="'Liberation Sans',Arial,sans-serif" text-anchor="start" fill="#111" font-weight="bold">b</text>
<rect x="35.4" y="346.3" width="9" height="9.2" fill="#000"/>
<rect x="35.9" y="366.6" width="8" height="7.4" fill="#fff" stroke="#111" stroke-width="1"/>
<circle cx="219.9" cy="350.5" r="3.75" fill="#E8275F" stroke="#2a1a20" stroke-width="1"/>
<polygon points="389.6,345.2 394.9,354.1 384.3,354.1" fill="#000"/>
<polygon points="389.6,367 394.2,375 385,375" fill="#fff" stroke="#222" stroke-width="0.9"/>
<text x="52.8" y="354.2" font-size="11.8" font-family="'Liberation Serif','Times New Roman',serif" text-anchor="start" fill="#111" >complete neurogenic DI</text>
<text x="52.8" y="374.3" font-size="11.8" font-family="'Liberation Serif','Times New Roman',serif" text-anchor="start" fill="#111" >partial neurogenic DI</text>
<text x="235.9" y="354.2" font-size="11.8" font-family="'Liberation Serif','Times New Roman',serif" text-anchor="start" fill="#111" >primary polydipsic DI</text>
<text x="230.5" y="374.3" font-size="11.8" font-family="'Liberation Serif','Times New Roman',serif" text-anchor="start" fill="#111" >shaded areas = normal</text>
<text x="404.6" y="354.5" font-size="11.8" font-family="'Liberation Serif','Times New Roman',serif" text-anchor="start" fill="#111" >complete nephrogenic DI</text>
<text x="404.6" y="373.8" font-size="11.8" font-family="'Liberation Serif','Times New Roman',serif" text-anchor="start" fill="#111" >partial nephrogenic DI</text>
</svg>
</body></html>
